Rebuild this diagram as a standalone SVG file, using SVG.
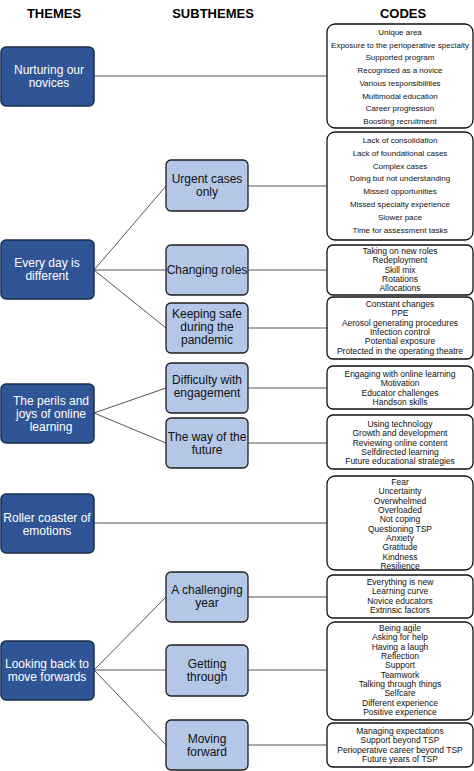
<svg xmlns="http://www.w3.org/2000/svg" width="474" height="771" viewBox="0 0 474 771">
<style>
.hdr{font-family:"Liberation Sans",Arial,sans-serif;font-size:13px;font-weight:bold;fill:#000;text-anchor:middle}
.th rect{fill:#2f5597;stroke:#1b2c4d;stroke-width:1.5}
.th text{font-family:"Liberation Sans",Arial,sans-serif;font-size:12px;fill:#fff;text-anchor:middle}
.st rect{fill:#b4c7e7;stroke:#1e1e1e;stroke-width:1.3}
.st text{font-family:"Liberation Sans",Arial,sans-serif;font-size:12px;fill:#111;text-anchor:middle}
.cd rect{fill:#fff;stroke:#111;stroke-width:1.3}
.cd text{font-family:"Liberation Sans",Arial,sans-serif;font-size:8.5px;fill:#111;text-anchor:middle}
.cd text.big{font-size:8px}
#connectors line{stroke:#555;stroke-width:1}
</style>
<rect width="474" height="771" fill="#fff"/>
<text class="hdr" x="54" y="18">THEMES</text>
<text class="hdr" x="213" y="18">SUBTHEMES</text>
<text class="hdr" x="403" y="18">CODES</text>

<g id="connectors">
<line x1="94" y1="76" x2="327" y2="76"/>
<line x1="94" y1="270" x2="166" y2="186"/>
<line x1="94" y1="270" x2="166" y2="270"/>
<line x1="94" y1="270" x2="166" y2="328"/>
<line x1="248" y1="186" x2="327" y2="186"/>
<line x1="248" y1="270" x2="327" y2="270"/>
<line x1="248" y1="328" x2="327" y2="328"/>
<line x1="94" y1="413" x2="166" y2="388"/>
<line x1="94" y1="413" x2="166" y2="443"/>
<line x1="248" y1="388" x2="327" y2="388"/>
<line x1="248" y1="443" x2="327" y2="443"/>
<line x1="94" y1="523" x2="327" y2="523"/>
<line x1="94" y1="670" x2="166" y2="597"/>
<line x1="94" y1="670" x2="166" y2="670"/>
<line x1="94" y1="670" x2="166" y2="745"/>
<line x1="248" y1="597" x2="327" y2="597"/>
<line x1="248" y1="670" x2="327" y2="670"/>
<line x1="248" y1="745" x2="327" y2="745"/>
</g>

<g id="theme-nurturing" class="th"><rect x="1" y="47" width="93" height="59" rx="5"/><text x="49" y="74">Nurturing our</text><text x="49" y="87">novices</text></g>
<g id="theme-everyday" class="th"><rect x="1" y="240" width="93" height="59" rx="5"/><text x="47" y="267">Every day is</text><text x="47" y="280">different</text></g>
<g id="theme-perils" class="th"><rect x="1" y="384" width="93" height="59" rx="5"/><text x="51" y="405">The perils and</text><text x="51" y="418">joys of online</text><text x="51" y="431">learning</text></g>
<g id="theme-roller" class="th"><rect x="1" y="494" width="93" height="59" rx="5"/><text x="47" y="522">Roller coaster of</text><text x="47" y="535">emotions</text></g>
<g id="theme-looking" class="th"><rect x="1" y="641" width="93" height="59" rx="5"/><text x="47" y="668">Looking back to</text><text x="47" y="681">move forwards</text></g>

<g id="sub-urgent" class="st"><rect x="166" y="160" width="82" height="51" rx="5"/><text x="207" y="183">Urgent cases</text><text x="207" y="196">only</text></g>
<g id="sub-changing" class="st"><rect x="166" y="245" width="82" height="50" rx="5"/><text x="207" y="274">Changing roles</text></g>
<g id="sub-keeping" class="st"><rect x="166" y="303" width="82" height="50" rx="5"/><text x="207" y="318">Keeping safe</text><text x="207" y="331">during the</text><text x="207" y="344">pandemic</text></g>
<g id="sub-difficulty" class="st"><rect x="166" y="363" width="82" height="50" rx="5"/><text x="207" y="384">Difficulty with</text><text x="207" y="397">engagement</text></g>
<g id="sub-way" class="st"><rect x="166" y="418" width="82" height="50" rx="5"/><text x="207" y="441">The way of the</text><text x="207" y="454">future</text></g>
<g id="sub-challenging" class="st"><rect x="166" y="572" width="82" height="50" rx="5"/><text x="207" y="594">A challenging</text><text x="207" y="607">year</text></g>
<g id="sub-getting" class="st"><rect x="166" y="645" width="82" height="51" rx="5"/><text x="207" y="668">Getting</text><text x="207" y="681">through</text></g>
<g id="sub-moving" class="st"><rect x="166" y="720" width="82" height="50" rx="5"/><text x="207" y="743">Moving</text><text x="207" y="756">forward</text></g>

<g id="codes-1" class="cd"><rect x="327" y="24" width="146" height="104" rx="8"/>
<text class="big" x="400" y="35">Unique area<tspan x="400" dy="12.7">Exposure to the perioperative specialty</tspan><tspan x="400" dy="12.7">Supported program</tspan><tspan x="400" dy="12.7">Recognised as a novice</tspan><tspan x="400" dy="12.7">Various responsibilities</tspan><tspan x="400" dy="12.7">Multimodal education</tspan><tspan x="400" dy="12.7">Career progression</tspan><tspan x="400" dy="12.7">Boosting recruitment</tspan></text></g>
<g id="codes-2" class="cd"><rect x="327" y="132" width="146" height="108" rx="8"/>
<text class="big" x="400" y="143">Lack of consolidation<tspan x="400" dy="12.8">Lack of foundational cases</tspan><tspan x="400" dy="12.8">Complex cases</tspan><tspan x="400" dy="12.8">Doing but not understanding</tspan><tspan x="400" dy="12.8">Missed opportunities</tspan><tspan x="400" dy="12.8">Missed specialty experience</tspan><tspan x="400" dy="12.8">Slower pace</tspan><tspan x="400" dy="12.8">Time for assessment tasks</tspan></text></g>
<g id="codes-3" class="cd"><rect x="327" y="245" width="146" height="50" rx="6"/>
<text x="400" y="254">Taking on new roles<tspan x="400" dy="9.3">Redeployment</tspan><tspan x="400" dy="9.3">Skill mix</tspan><tspan x="400" dy="9.3">Rotations</tspan><tspan x="400" dy="9.3">Allocations</tspan></text></g>
<g id="codes-4" class="cd"><rect x="327" y="297" width="146" height="62" rx="6"/>
<text x="400" y="307">Constant changes<tspan x="400" dy="9.3">PPE</tspan><tspan x="400" dy="9.3">Aerosol generating procedures</tspan><tspan x="400" dy="9.3">Infection control</tspan><tspan x="400" dy="9.3">Potential exposure</tspan><tspan x="400" dy="9.3">Protected in the operating theatre</tspan></text></g>
<g id="codes-5" class="cd"><rect x="327" y="366" width="146" height="43" rx="6"/>
<text x="400" y="377">Engaging with online learning<tspan x="400" dy="9.3">Motivation</tspan><tspan x="400" dy="9.3">Educator challenges</tspan><tspan x="400" dy="9.3">Handson skills</tspan></text></g>
<g id="codes-6" class="cd"><rect x="327" y="415" width="146" height="54" rx="6"/>
<text x="400" y="427">Using technology<tspan x="400" dy="9.3">Growth and development</tspan><tspan x="400" dy="9.3">Reviewing online content</tspan><tspan x="400" dy="9.3">Selfdirected learning</tspan><tspan x="400" dy="9.3">Future educational strategies</tspan></text></g>
<g id="codes-7" class="cd"><rect x="327" y="476" width="146" height="94" rx="8"/>
<text x="400" y="485">Fear<tspan x="400" dy="9.33">Uncertainty</tspan><tspan x="400" dy="9.33">Overwhelmed</tspan><tspan x="400" dy="9.33">Overloaded</tspan><tspan x="400" dy="9.33">Not coping</tspan><tspan x="400" dy="9.33">Questioning TSP</tspan><tspan x="400" dy="9.33">Anxiety</tspan><tspan x="400" dy="9.33">Gratitude</tspan><tspan x="400" dy="9.33">Kindness</tspan><tspan x="400" dy="9.33">Resilience</tspan></text></g>
<g id="codes-8" class="cd"><rect x="327" y="575" width="146" height="43" rx="6"/>
<text x="400" y="585">Everything is new<tspan x="400" dy="9.33">Learning curve</tspan><tspan x="400" dy="9.33">Novice educators</tspan><tspan x="400" dy="9.33">Extrinsic factors</tspan></text></g>
<g id="codes-9" class="cd"><rect x="327" y="622" width="146" height="98" rx="8"/>
<text x="400" y="631">Being agile<tspan x="400" dy="9.33">Asking for help</tspan><tspan x="400" dy="9.33">Having a laugh</tspan><tspan x="400" dy="9.33">Reflection</tspan><tspan x="400" dy="9.33">Support</tspan><tspan x="400" dy="9.33">Teamwork</tspan><tspan x="400" dy="9.33">Talking through things</tspan><tspan x="400" dy="9.33">Selfcare</tspan><tspan x="400" dy="9.33">Different experience</tspan><tspan x="400" dy="9.33">Positive experience</tspan></text></g>
<g id="codes-10" class="cd"><rect x="327" y="723" width="146" height="44" rx="6"/>
<text x="400" y="734">Managing expectations<tspan x="400" dy="9.33">Support beyond TSP</tspan><tspan x="400" dy="9.33">Perioperative career beyond TSP</tspan><tspan x="400" dy="9.33">Future years of TSP</tspan></text></g>
</svg>
